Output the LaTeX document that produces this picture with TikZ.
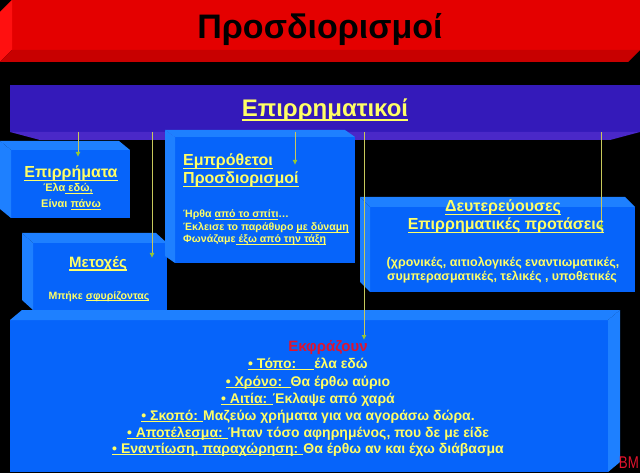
\documentclass[tikz,border=0pt]{standalone}
\usepackage{fontspec}
\setmainfont{Liberation Sans}
\usetikzlibrary{arrows.meta}
\definecolor{redF}{RGB}{228,0,0}
\definecolor{redL}{RGB}{255,16,16}
\definecolor{redB}{RGB}{200,0,0}
\definecolor{purpF}{RGB}{52,26,186}
\definecolor{purpB}{RGB}{74,40,200}
\definecolor{blueF}{RGB}{6,100,250}
\definecolor{blueS}{RGB}{30,128,255}
\definecolor{yl}{RGB}{255,255,102}
\definecolor{lineY}{RGB}{200,200,90}
\definecolor{arrG}{RGB}{150,200,50}
\definecolor{redT}{RGB}{225,20,45}
\newcommand\myul[1]{\setbox0\hbox{#1}\rlap{\rule[-0.17em]{\wd0}{0.075em}}\box0}
\newcommand\fsz[1]{\bfseries\fontsize{#1}{#1}\selectfont}
\tikzset{
  front/.style={fill=#1, inner sep=0pt, outer sep=0pt, anchor=north west},
  ytxt/.style={anchor=base, inner sep=0pt, text=yl},
  conn/.style={draw=lineY, line width=0.9pt, -{Latex[length=5pt,width=5pt,color=arrG]}}
}
\begin{document}
\begin{tikzpicture}[x=1pt,y=-1pt]
\useasboundingbox (0,0) rectangle (640,473);
\fill[black] (0,0) rectangle (640,473);
% title bar
\node[front=redF, minimum width=628pt, minimum height=50pt] (tbar) at (12,0) {};
\fill[redL] (tbar.north west) -- ++(-12,12) -- ++(0,50) -- (tbar.south west) -- cycle;
\fill[redB] (tbar.south west) -- (tbar.south east) -- ++(-12,12) -- (0,62) -- cycle;
\node[anchor=base, inner sep=0pt, text=black, font=\fsz{34}] (title) at (320,39) {Προσδιορισμοί};
% main bar
\node[front=purpF, minimum width=630pt, minimum height=47pt] (bar) at (10,85) {};
\fill[purpB] (bar.south west) -- (bar.south east) -- ++(-30,8) -- (40,140) -- cycle;
\node[ytxt, font=\fsz{24}] (bartxt) at (325,117) {\myul{Επιρρηματικοί}};
% box Epirrimata
\node[front=blueF, minimum width=119pt, minimum height=68pt] (ep) at (11,150) {};
\fill[blueS] (ep.north west) -- ++(-11,-9) -- ++(119,0) -- (ep.north east) -- cycle;
\fill[blueS] (ep.north west) -- ++(-11,-9) -- ++(0,68) -- (ep.south west) -- cycle;
% box Metoxes
\node[front=blueF, minimum width=134pt, minimum height=67pt] (met) at (33,243) {};
\fill[blueS] (met.north west) -- ++(-11,-10) -- ++(134,0) -- (met.north east) -- cycle;
\fill[blueS] (met.north west) -- ++(-11,-10) -- ++(0,67) -- (met.south west) -- cycle;
% box Emprothetoi
\node[front=blueF, minimum width=180pt, minimum height=126pt] (emp) at (175,137) {};
\fill[blueS] (emp.north west) -- ++(-10,-7) -- ++(180,0) -- (emp.north east) -- cycle;
\fill[blueS] (emp.north west) -- ++(-10,-7) -- ++(0,126) -- (emp.south west) -- cycle;
% box Deutereuouses
\node[front=blueF, minimum width=265pt, minimum height=85pt] (deu) at (370,207) {};
\fill[blueS] (deu.north west) -- ++(-10,-10) -- ++(265,0) -- (deu.north east) -- cycle;
\fill[blueS] (deu.north west) -- ++(-10,-10) -- ++(0,85) -- (deu.south west) -- cycle;
% bottom box
\node[front=blueF, minimum width=598pt, minimum height=152pt] (bot) at (10,320) {};
\fill[blueS] (bot.north west) -- ++(12,-10) -- ++(598,0) -- (bot.north east) -- cycle;
\fill[blueS] (bot.north east) -- ++(12,-10) -- ++(0,152) -- (bot.south east) -- cycle;
% connectors
\coordinate (a1) at (78,157);
\coordinate (a2) at (152,258);
\coordinate (a3) at (295,165);
\coordinate (a4) at (364,340);
\coordinate (a5) at (601,230);
\foreach \t in {a1,a2,a3,a4,a5} \draw[conn] (bar.south -| \t) -- (\t);
% texts
\node[ytxt, font=\fsz{16}] (epT) at (71,178) {\myul{Επιρρήματα}};
\node[ytxt, font=\fsz{11}] (ep1) at (68,192) {Έλα\myul{ εδώ,}};
\node[ytxt, font=\fsz{11}] (ep2) at (71,208) {Είναι \myul{πάνω}};
\node[ytxt, font=\fsz{15}] (metT) at (98,268) {\myul{Μετοχές}};
\node[ytxt, font=\fsz{10.6}] (met1) at (99,299) {Μπήκε \myul{σφυρίζοντας}};
\node[ytxt, anchor=base west, font=\fsz{16}] (empT1) at (183,166) {\myul{Εμπρόθετοι}};
\node[ytxt, anchor=base west, font=\fsz{16}] (empT2) at (183,184) {\myul{Προσδιορισμοί}};
\node[ytxt, anchor=base west, font=\fsz{10.6}] (emp1) at (183,218) {Ήρθα \myul{από το σπίτι}…};
\node[ytxt, anchor=base west, font=\fsz{10.6}] (emp2) at (183,231) {Έκλεισε το παράθυρο \myul{με δύναμη}};
\node[ytxt, anchor=base west, font=\fsz{10.6}] (emp3) at (183,243) {Φωνάζαμε\myul{ έξω από την τάξη}};
\node[ytxt, font=\fsz{16}] (deuT1) at (503,212) {\myul{Δευτερεύουσες}};
\node[ytxt, font=\fsz{16}] (deuT2) at (506,230) {\myul{Επιρρηματικές προτάσεις}};
\node[ytxt, font=\fsz{12.5}] (deu1) at (503,266) {(χρονικές, αιτιολογικές εναντιωματικές,};
\node[ytxt, font=\fsz{12.5}] (deu2) at (502,280) {συμπερασματικές, τελικές , υποθετικές};
\node[anchor=base, inner sep=0pt, text=redT, font=\fsz{15}] (ekf) at (328,351) {Εκφράζουν};
\node[ytxt, font=\fsz{14}] (b1) at (308,368) {\myul{• Τόπο:\hspace{1.3em}}έλα εδώ};
\node[ytxt, font=\fsz{14}] (b2) at (308,386) {\myul{• Χρόνο:\hspace{0.6em}}Θα έρθω αύριο};
\node[ytxt, font=\fsz{14}] (b3) at (308,403) {\myul{• Αιτία: }Έκλαψε από χαρά};
\node[ytxt, font=\fsz{14}] (b4) at (308,420) {\myul{• Σκοπό: }Μαζεύω χρήματα για να αγοράσω δώρα.};
\node[ytxt, font=\fsz{14}] (b5) at (308,437) {\myul{• Αποτέλεσμα: }Ήταν τόσο αφηρημένος, που δε με είδε};
\node[ytxt, font=\fsz{14}] (b6) at (308,453) {\myul{• Εναντίωση, παραχώρηση: }Θα έρθω αν και έχω διάβασμα};
\node[anchor=base east, inner sep=0pt, text=redT, font=\fontsize{17}{17}\selectfont] (bm) at (639,468) {\scalebox{0.78}[1]{BM}};
\end{tikzpicture}
\end{document}
